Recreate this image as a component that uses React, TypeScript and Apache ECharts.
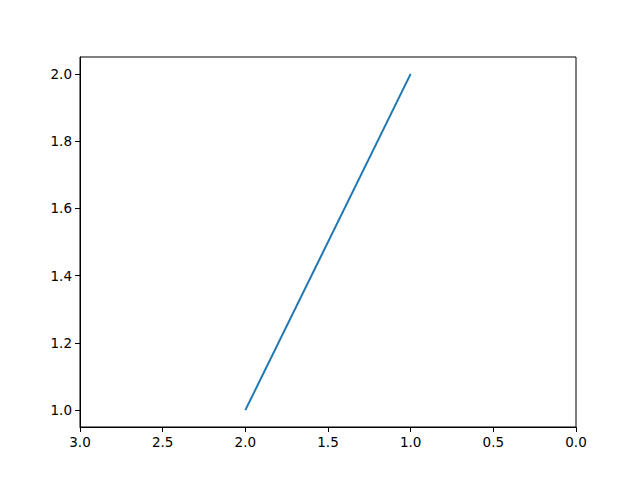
import React, { useRef, useEffect } from 'react';
import * as echarts from 'echarts';

const xValues = [2, 1];
const yValues = [1, 2];
const yTicks = [1.0, 1.2, 1.4, 1.6, 1.8, 2.0];

const App = () => {
  const chartRef = useRef(null);

  useEffect(() => {
    const myChart = echarts.init(chartRef.current, null, { renderer: 'svg' });

    const option = {
      animation: false,
      textStyle: { fontFamily: 'DejaVu Sans' },
      grid: {
        left: 80,
        right: 64,
        top: 57,
        bottom: 53,
        show: true,
        borderColor: '#000',
        borderWidth: 1,
      },
      xAxis: {
        type: 'value',
        inverse: true,
        min: 0,
        max: 3,
        interval: 0.5,
        splitLine: { show: false },
        axisLine: { show: true, onZero: false, lineStyle: { color: '#000' } },
        axisTick: { show: true, inside: false, length: 5, lineStyle: { color: '#000' } },
        axisLabel: {
          color: '#000',
          fontSize: 13.5,
          margin: 8,
          formatter: (v: number) => v.toFixed(1),
        },
      },
      yAxis: {
        type: 'value',
        min: 0.95,
        max: 2.05,
        splitLine: { show: false },
        axisLine: { show: true, onZero: false, lineStyle: { color: '#000' } },
        axisTick: {
          show: true,
          inside: false,
          length: 5,
          customValues: yTicks,
          lineStyle: { color: '#000' },
        },
        axisLabel: {
          color: '#000',
          fontSize: 13.5,
          margin: 8,
          customValues: yTicks,
          formatter: (v: number) => v.toFixed(1),
        },
      },
      series: [
        {
          type: 'line',
          symbol: 'none',
          lineStyle: { color: '#1f77b4', width: 2 },
          data: xValues.map((x, i) => [x, yValues[i]]),
        },
      ],
    };

    myChart.setOption(option);

    return () => {
      myChart.dispose();
    };
  }, []);

  return (
    <div
      ref={chartRef}
      style={{ position: 'absolute', left: 0, top: 0, width: '640px', height: '480px', background: '#fff' }}
    />
  );
};

export default App;
